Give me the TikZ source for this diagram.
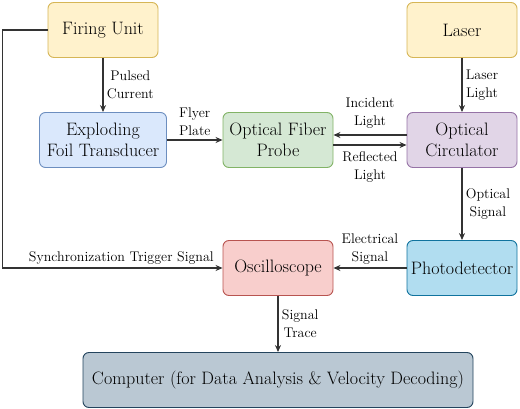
\documentclass[tikz,border=0pt]{standalone}
\usetikzlibrary{arrows.meta}
\definecolor{yelfill}{HTML}{FFF2CC}\definecolor{yeldraw}{HTML}{D6B656}
\definecolor{bluefill}{HTML}{DAE8FC}\definecolor{bluedraw}{HTML}{6C8EBF}
\definecolor{grnfill}{HTML}{D5E8D4}\definecolor{grndraw}{HTML}{82B366}
\definecolor{purfill}{HTML}{E1D5E7}\definecolor{purdraw}{HTML}{9673A6}
\definecolor{cyanfill}{HTML}{B1DDF0}\definecolor{cyandraw}{HTML}{10739E}
\definecolor{redfill}{HTML}{F8CECC}\definecolor{reddraw}{HTML}{B85450}
\definecolor{grayfill}{HTML}{BAC8D3}\definecolor{graydraw}{HTML}{23445D}
\definecolor{linecol}{HTML}{333333}
\begin{document}
\begin{tikzpicture}[x=1pt,y=-1pt,
    box/.style={draw, rounded corners=6pt, line width=0.9pt, minimum width=110pt,
        minimum height=55pt, align=center, text=black, inner xsep=2pt,
        font=\fontsize{18}{20.5}\selectfont},
    lbl/.style={align=center, text=black, font=\fontsize{14}{18}\selectfont},
    link/.style={draw=linecol, line width=1.1pt, -{Stealth[length=7pt,width=6pt]}}]
    \useasboundingbox (0,0) rectangle (520,409);
    \node[box,fill=yelfill,draw=yeldraw] (fire) at (103,30) {Firing Unit};
    \node[box,fill=yelfill,draw=yeldraw] (laser) at (462,30) {Laser};
    \node[box,fill=bluefill,draw=bluedraw,minimum width=127pt] (efd) at (103,140) {Exploding\\Foil Transducer};
    \node[box,fill=grnfill,draw=grndraw] (probe) at (278,140) {Optical Fiber\\Probe};
    \node[box,fill=purfill,draw=purdraw] (circ) at (462,140) {Optical\\Circulator};
    \node[box,fill=cyanfill,draw=cyandraw,text width=106pt] (pd) at (462,268) {Photodetector};
    \node[box,fill=redfill,draw=reddraw] (osc) at (278,268) {Oscilloscope};
    \node[box,fill=grayfill,draw=graydraw,minimum width=390pt] (pc) at (278,380) {Computer (for Data Analysis \& Velocity Decoding)};
    \draw [link] (fire) -- node[right,lbl] {Pulsed\\Current} (efd);
    \draw [link] (laser) -- node[right,lbl] {Laser\\Light} (circ);
    \draw [link] (efd) -- node[above,lbl] {Flyer\\Plate} (probe);
    \draw [link] ([yshift=5pt]circ.west) -- node[above,lbl,yshift=3pt] {Incident\\Light} ([yshift=5pt]probe.east);
    \draw [link] ([yshift=-5pt]probe.east) -- node[below,lbl,yshift=-3pt] {Reflected\\Light} ([yshift=-5pt]circ.west);
    \draw [link] (circ) -- node[right,lbl] {Optical\\Signal} (pd);
    \draw [link] (pd) -- node[above,lbl] {Electrical\\Signal} (osc);
    \draw [link] (osc) -- node[right,lbl] {Signal\\Trace} (pc);
    \draw [link] (fire.west) -- ++(-45,0) |- node[pos=0.77,above,lbl] {Synchronization Trigger Signal} (osc.west);
\end{tikzpicture}
\end{document}
